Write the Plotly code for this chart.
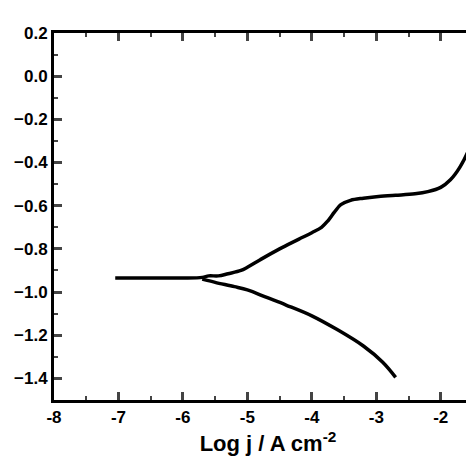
import plotly.graph_objects as go

# anodic branch
anodic_x = [-7.05, -6.5, -6.0, -5.7, -5.6, -5.45, -5.3, -5.1, -5.0, -4.8, -4.5, -4.2, -4.0, -3.85, -3.75,
            -3.65, -3.55, -3.4, -3.2, -3.0, -2.7, -2.4, -2.2, -2.0, -1.85, -1.7, -1.55, -1.45, -1.36]
anodic_y = [-0.935, -0.935, -0.935, -0.932, -0.925, -0.925, -0.915, -0.9, -0.885, -0.85, -0.8, -0.755, -0.725, -0.7, -0.67,
            -0.63, -0.595, -0.575, -0.565, -0.558, -0.552, -0.545, -0.535, -0.515, -0.48, -0.42, -0.33, -0.24, -0.15]
# cathodic branch
cathodic_x = [-5.7, -5.5, -5.2, -5.0, -4.7, -4.4, -4.0, -3.6, -3.2, -2.9, -2.7]
cathodic_y = [-0.94, -0.955, -0.975, -0.99, -1.025, -1.06, -1.11, -1.175, -1.25, -1.325, -1.395]

fig = go.Figure()
fig.add_scatter(x=anodic_x, y=anodic_y, mode="lines", line=dict(color="black", width=3.5), line_shape="spline", cliponaxis=False)
fig.add_scatter(x=cathodic_x, y=cathodic_y, mode="lines", line=dict(color="black", width=3.5), line_shape="spline")

fig.update_layout(
    width=474, height=474, showlegend=False,
    plot_bgcolor="white", paper_bgcolor="white",
    margin=dict(l=46, r=0, t=25, b=82, autoexpand=False),
    font=dict(family="Liberation Sans", color="black", size=17),
)
fig.update_xaxes(range=[-8, -1.36], tickvals=[-8, -7, -6, -5, -4, -3, -2], ticktext=["-8", "-7", "-6", "-5", "-4", "-3", "-2"],
                 ticks="inside", ticklen=8, tickwidth=3, showline=True, linewidth=3, linecolor="black", mirror="ticks",
                 showgrid=False, zeroline=False, tickfont=dict(size=17, weight="bold"), automargin=False,
                 minor=dict(ticks="inside", ticklen=4, tickwidth=2, dtick=0.5),
                 title=dict(text="Log j / A cm<sup>-2</sup>", font=dict(size=22, weight="bold"), standoff=10))
fig.update_yaxes(range=[-1.5, 0.2], dtick=0.2, tickformat=".1f",
                 ticks="inside", ticklen=8, tickwidth=3, showline=True, linewidth=3, linecolor="black",
                 showgrid=False, zeroline=False, tickfont=dict(size=17, weight="bold"), automargin=False,
                 minor=dict(ticks="inside", ticklen=4, tickwidth=2, dtick=0.1))

fig.write_html("out.html")
